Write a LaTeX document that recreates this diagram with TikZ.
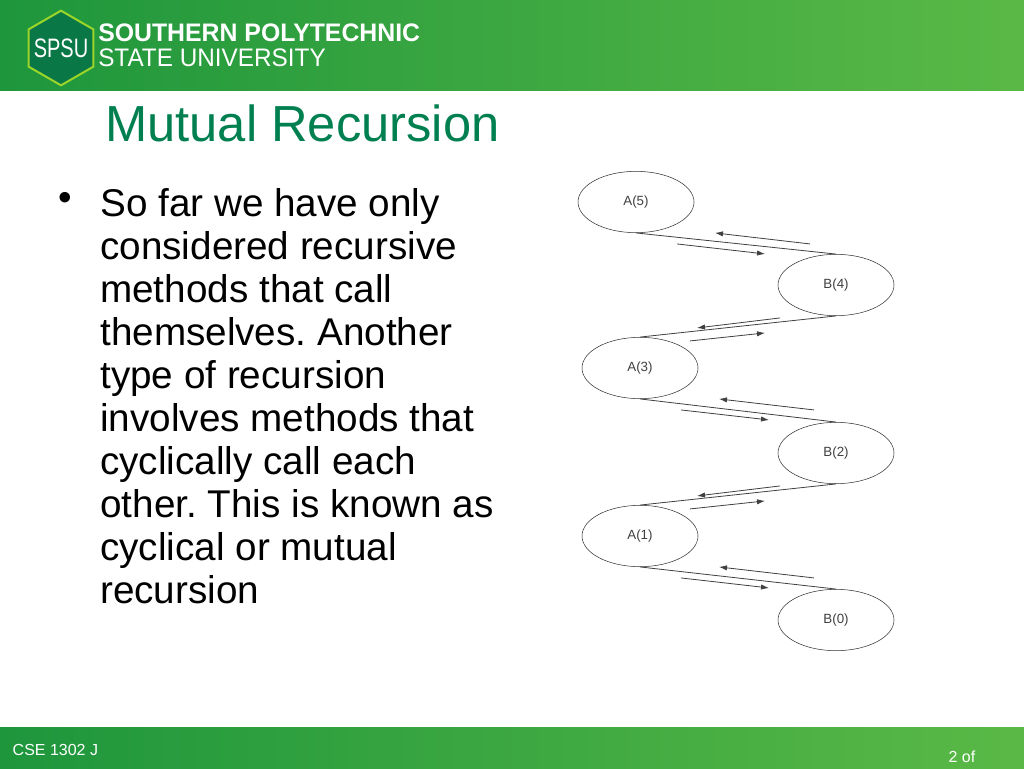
\documentclass[tikz,border=0pt]{standalone}
\usepackage{fontspec}
\setmainfont{Liberation Sans}
\usetikzlibrary{shapes.geometric,arrows.meta,calc}
\definecolor{sgreen}{RGB}{0,128,80}
\definecolor{hdA}{RGB}{30,150,60}
\definecolor{hdB}{RGB}{90,185,70}
\definecolor{hexg}{RGB}{10,120,70}
\frenchspacing
\begin{document}
\begin{tikzpicture}[x=0.75pt,y=-0.75pt,
  st/.style={draw=black!80,ellipse,minimum width=87pt,minimum height=46pt,inner sep=0pt,font=\fontsize{10}{12}\selectfont,text=black!75},
  lnk/.style={draw=black!75,line width=0.6pt},
  arr/.style={draw=black!75,line width=0.6pt,-{Latex[length=6pt,width=4pt]}}]
\useasboundingbox (0,0) rectangle (1024,768);
\fill[white] (0,0) rectangle (1024,768);
\shade[left color=hdA,right color=hdB] (0,0) rectangle (1024,90);
\shade[left color=hdA,right color=hdB] (0,727) rectangle (1024,768);
\node[regular polygon,regular polygon sides=6,fill=hexg,draw=hdB!60!yellow,line width=1.5pt,minimum size=56pt,rotate=30] (logo) at (61,48) {};
\node[text=white,font=\fontsize{20}{20}\selectfont,xscale=0.75] (spsu) at (61,48) {SPSU};
\node[anchor=base west,text=white,font=\bfseries\fontsize{19}{19}\selectfont,xscale=0.98,inner sep=0pt] (l1) at (98,41) {SOUTHERN POLYTECHNIC};
\node[anchor=base west,text=white,font=\fontsize{19}{19}\selectfont,xscale=0.96,inner sep=0pt] (l2) at (98,66) {STATE UNIVERSITY};
\node[anchor=base west,text=sgreen,font=\fontsize{38}{38}\selectfont,inner sep=0pt] (title) at (105,141) {Mutual Recursion};
\node[anchor=north west,inner sep=0pt] (bul) at (58,192) {\fontsize{29}{32}\selectfont\textbullet};
\node[anchor=north west,inner sep=0pt,align=left,font=\fontsize{29}{32.3}\selectfont] (body) at (100,188)
 {So far we have only\\considered recursive\\methods that call\\themselves. Another\\type of recursion\\involves methods that\\cyclically call each\\other. This is known as\\cyclical or mutual\\recursion};
\node[st] (a5) at (636,202) {A(5)};
\node[st] (b4) at (836,285) {B(4)};
\node[st] (a3) at (640,368) {A(3)};
\node[st] (b2) at (836,453) {B(2)};
\node[st] (a1) at (640,536) {A(1)};
\node[st] (b0) at (836,620) {B(0)};
\foreach \u/\v in {a5/b4,a3/b2,a1/b0}{
  \draw[lnk] (\u.south) -- (\v.north);
  \draw[arr] ($(\u.south)+(174,11)$) -- ($(\u.south)+(79,0)$);
  \draw[arr] ($(\u.south)+(41,11)$) -- ($(\u.south)+(129,21)$);
}
\foreach \u/\v in {b4/a3,b2/a1}{
  \draw[lnk] (\u.south) -- (\v.north);
  \draw[arr] ($(\u.south)+(-56,2)$) -- ($(\u.south)+(-139,12)$);
  \draw[arr] ($(\u.south)+(-146,25)$) -- ($(\u.south)+(-71,17)$);
}
\node[anchor=west,text=white,font=\fontsize{12}{12}\selectfont] (foot) at (8,750) {CSE 1302 J};
\node[anchor=east,text=white,font=\fontsize{12}{12}\selectfont] (pg) at (980,757) {2 of};
\end{tikzpicture}
\end{document}
